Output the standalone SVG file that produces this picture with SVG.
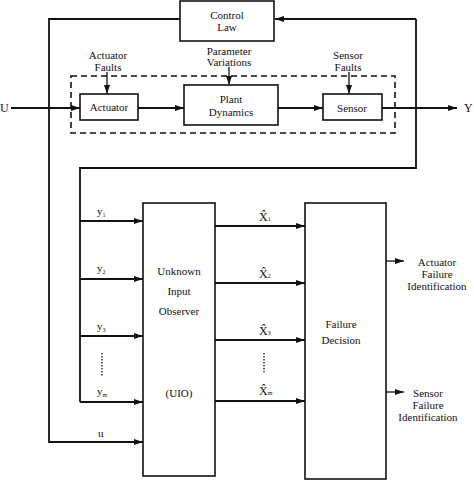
<svg xmlns="http://www.w3.org/2000/svg" width="474" height="481" viewBox="0 0 474 481">
<style>
.box{fill:#fff;stroke:#111;stroke-width:1.6}
.ln{fill:none;stroke:#111;stroke-width:1.8}
.thin{fill:none;stroke:#111;stroke-width:1.3}
.dash{fill:none;stroke:#111;stroke-width:1.6;stroke-dasharray:6,4}
.dots{fill:none;stroke:#111;stroke-width:1.3;stroke-dasharray:1.5,1.5}
text{font-family:"Liberation Serif","Times New Roman",serif;font-size:11px;fill:#111}
.c{text-anchor:middle}
.big{font-size:12px}
.xh{font-size:12px}
.sub{font-size:6px}
</style>
<defs>
<marker id="ah" markerWidth="9" markerHeight="6" refX="9" refY="3" orient="auto" markerUnits="userSpaceOnUse">
<path d="M0,0 L9,3 L0,6 z" fill="#111"/>
</marker>
</defs>
<rect width="474" height="481" fill="#fff"/>
<g id="connectors">
<path class="ln" d="M180,19 H49 V442 H143" marker-end="url(#ah)"/>
<path class="ln" d="M416,19 H275" marker-end="url(#ah)"/>
<path class="ln" d="M416,19 V168 H80 V402"/>
<path class="ln" d="M11,108 H80" marker-end="url(#ah)"/>
<path class="ln" d="M138,108 H184" marker-end="url(#ah)"/>
<path class="ln" d="M278,108 H323" marker-end="url(#ah)"/>
<path class="ln" d="M382,108 H457" marker-end="url(#ah)"/>
<path class="thin" d="M107,72 V94" marker-end="url(#ah)"/>
<path class="thin" d="M229,67 V85" marker-end="url(#ah)"/>
<path class="thin" d="M349,72 V94" marker-end="url(#ah)"/>
<path class="ln" d="M80,221 H143" marker-end="url(#ah)"/>
<path class="ln" d="M80,279 H143" marker-end="url(#ah)"/>
<path class="ln" d="M80,336 H143" marker-end="url(#ah)"/>
<path class="ln" d="M80,402 H143" marker-end="url(#ah)"/>
<path class="ln" d="M215,226 H305" marker-end="url(#ah)"/>
<path class="ln" d="M215,283 H305" marker-end="url(#ah)"/>
<path class="ln" d="M215,340 H305" marker-end="url(#ah)"/>
<path class="ln" d="M215,401 H305" marker-end="url(#ah)"/>
<path class="thin" d="M386,261 H404" marker-end="url(#ah)"/>
<path class="thin" d="M386,392 H404" marker-end="url(#ah)"/>
<path class="dots" d="M102,353 V377"/>
<path class="dots" d="M264,353 V373"/>
</g>
<g id="plant-boundary">
<rect class="dash" x="71" y="76" width="324" height="57"/>
</g>
<g id="control-law">
<rect class="box" x="180" y="1" width="94" height="40"/>
<text class="c" x="227" y="19">Control</text>
<text class="c" x="227" y="31">Law</text>
</g>
<g id="actuator">
<rect class="box" x="80" y="94" width="58" height="26"/>
<text class="c" x="109" y="111">Actuator</text>
</g>
<g id="plant">
<rect class="box" x="184" y="85" width="94" height="40"/>
<text class="c" x="231" y="103">Plant</text>
<text class="c" x="231" y="116">Dynamics</text>
</g>
<g id="sensor">
<rect class="box" x="323" y="94" width="59" height="26"/>
<text class="c" x="352" y="112">Sensor</text>
</g>
<g id="labels-top">
<text class="big" x="0" y="112">U</text>
<text class="big" x="464" y="112">Y</text>
<text class="c" x="108" y="59">Actuator</text>
<text class="c" x="108" y="71">Faults</text>
<text class="c" x="229" y="55">Parameter</text>
<text class="c" x="229" y="66">Variations</text>
<text class="c" x="348" y="59">Sensor</text>
<text class="c" x="348" y="71">Faults</text>
</g>
<g id="uio">
<rect class="box" x="143" y="203" width="72" height="273"/>
<text class="c" x="179" y="275">Unknown</text>
<text class="c" x="179" y="295">Input</text>
<text class="c" x="179" y="315">Observer</text>
<text class="c" x="179" y="397">(UIO)</text>
</g>
<g id="failure-decision">
<rect class="box" x="305" y="203" width="81" height="276"/>
<text class="c" x="341" y="328">Failure</text>
<text class="c" x="341" y="344">Decision</text>
</g>
<g id="signal-labels">
<text x="97" y="215">y<tspan class="sub" dy="2">1</tspan></text>
<text x="97" y="272">y<tspan class="sub" dy="2">2</tspan></text>
<text x="97" y="330">y<tspan class="sub" dy="2">3</tspan></text>
<text x="97" y="395">y<tspan class="sub" dy="2">m</tspan></text>
<text x="98" y="437">u</text>
<text class="xh" x="259" y="221">X&#770;<tspan class="sub">1</tspan></text>
<text class="xh" x="259" y="278">X&#770;<tspan class="sub">2</tspan></text>
<text class="xh" x="259" y="335">X&#770;<tspan class="sub">3</tspan></text>
<text class="xh" x="259" y="395">X&#770;<tspan class="sub">m</tspan></text>
</g>
<g id="outputs">
<text class="c" x="437" y="266">Actuator</text>
<text class="c" x="437" y="278">Failure</text>
<text class="c" x="437" y="290">Identification</text>
<text class="c" x="428" y="397">Sensor</text>
<text class="c" x="428" y="409">Failure</text>
<text class="c" x="428" y="421">Identification</text>
</g>
</svg>
